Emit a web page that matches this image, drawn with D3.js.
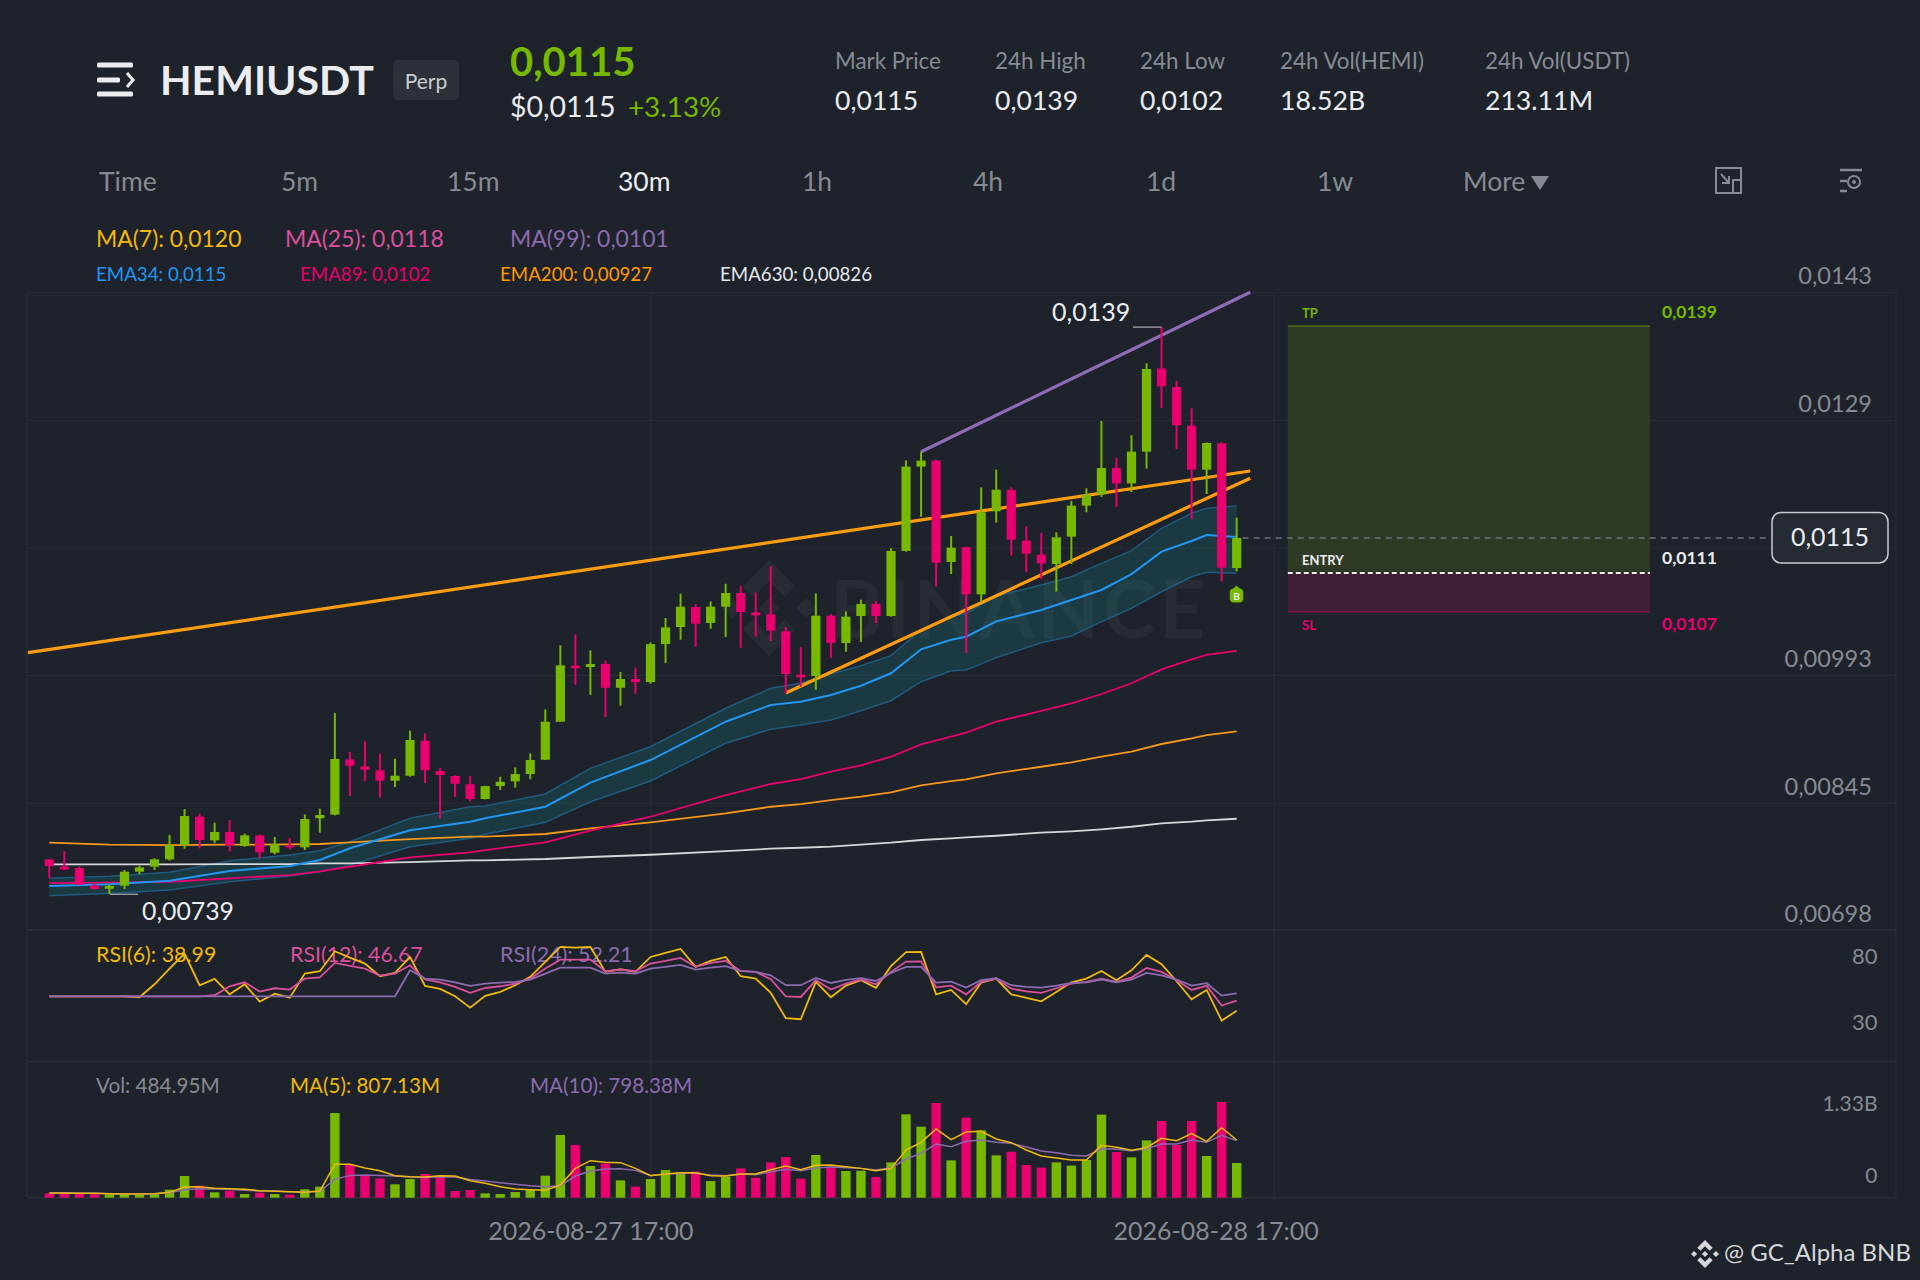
<!DOCTYPE html>
<html>
<head>
<meta charset="utf-8">
<script src="https://cdn.jsdelivr.net/npm/d3@7"></script>
<style>
  html, body { margin: 0; background: #1e222a; }
  svg { display: block; }
  text { font-family: Lato, sans-serif; }
  .axis .domain { display: none; }
</style>
</head>
<body>
<script>
// prices are kept in units of 0.00001, so 1430 means 0,0143
const opens = [779.1,770.7,769.1,749.2,745.4,748.9,764.9,770.7,779.1,795.5,828.1,800.9,810.5,794.4,806.6,786.7,795.2,792.9,826.2,830.4,
  893.9,885.8,881.3,869.4,875.1,915.3,880.5,874.8,865.2,848.3,863.2,868.6,877.0,893.5,937.1,1001.4,999.8,1003.3,976.1,986.1,
  982.6,1026.2,1045.8,1068.7,1050.4,1069.1,1084.8,1062.6,1060.3,1040.8,991.1,989.5,1058.8,1027.4,1058.4,1072.2,1058.4,1133.1,1229.9,1236.8,
  1120.4,1137.3,1083.3,1178.6,1203.1,1145.0,1128.9,1118.1,1149.5,1185.1,1198.1,1228.3,1210.7,1247.1,1342.4,1321.3,1276.9,1226.4,1256.7,1113.5];
const highs = [779.1,788.3,770.7,751.5,750.4,766.8,771.8,780.2,807.0,836.9,831.5,821.2,824.2,808.5,807.8,804.7,803.6,830.7,837.2,947.1,
  902.3,914.5,900.4,894.6,926.8,923.7,883.9,875.5,874.8,863.6,873.9,884.7,900.7,951.2,1024.7,1037.3,1019.0,1007.5,994.1,999.1,
  1028.2,1056.1,1084.0,1071.8,1075.2,1095.5,1093.2,1085.2,1115.8,1045.8,1022.8,1084.4,1060.7,1063.7,1077.1,1075.6,1136.1,1237.1,1247.1,1237.5,
  1150.3,1138.0,1206.1,1226.4,1206.1,1161.4,1153.7,1154.5,1190.5,1205.0,1282.3,1239.8,1265.8,1348.5,1390.0,1328.2,1296.8,1257.8,1257.8,1171.3];
const lows = [757.3,766.5,749.6,744.6,739.0,745.0,762.2,766.8,777.6,791.3,791.7,797.8,788.3,793.6,780.2,784.8,790.6,789.8,809.7,829.6,
  851.8,869.0,849.9,862.1,874.0,866.7,826.2,850.6,846.0,847.9,858.6,861.3,870.9,893.1,937.1,979.2,967.7,942.4,955.5,969.2,
  980.7,1004.4,1031.2,1023.2,1043.8,1034.3,1022.0,1034.7,1029.7,969.6,977.3,973.8,1010.6,1017.4,1028.5,1050.4,1057.7,1132.3,1172.5,1092.1,
  1106.6,1016.3,1074.9,1165.6,1127.7,1108.6,1100.9,1086.4,1118.1,1177.4,1195.1,1183.9,1200.8,1227.6,1297.2,1250.1,1169.8,1198.5,1098.2,1109.7];
const closes = [771.4,767.6,750.0,745.0,748.5,764.9,769.9,779.1,795.5,828.8,801.3,810.5,794.8,806.6,787.1,796.3,792.9,825.4,830.0,894.3,
  886.6,882.0,869.4,875.1,916.1,881.3,875.9,865.9,848.3,863.2,868.2,877.0,893.1,937.1,1001.8,998.3,1003.3,976.1,986.1,982.6,
  1026.2,1045.4,1069.1,1049.6,1069.1,1084.8,1063.0,1059.2,1041.6,991.8,988.0,1058.8,1027.4,1057.6,1072.2,1058.4,1133.1,1229.9,1236.8,1119.7,
  1136.9,1083.3,1177.4,1203.5,1146.1,1130.0,1118.9,1148.8,1185.1,1197.7,1228.3,1210.7,1247.1,1342.0,1322.1,1277.3,1226.4,1257.0,1113.9,1148.0];

const volumes = [61,56,56,51,47,47,47,47,112,303,168,75,98,51,70,51,42,117,154,1184,
  457,312,270,187,261,331,308,93,107,61,51,79,107,308,877,737,443,480,242,154,
  261,387,354,364,233,294,410,280,494,569,266,597,434,373,378,289,494,1166,993,1324,
  522,1119,942,592,643,457,420,494,448,527,1161,639,564,802,1072,737,1072,583,1338,484.95];
const volMa5 = [65,65,61,61,56,51,51,56,75,149,154,131,126,117,98,89,84,75,93,466,
  466,415,378,308,294,289,308,303,238,201,154,121,112,103,177,410,518,494,490,410,
  308,331,350,350,308,303,331,331,392,443,392,452,457,434,410,378,410,667,774,961,
  811,919,928,821,769,667,583,555,527,527,732,704,662,699,830,797,895,788,979,807.13];
const volMa10 = [65,65,61,61,56,51,51,56,70,112,126,121,117,103,93,93,84,79,89,256,
  312,317,312,303,289,284,294,289,256,233,210,187,168,154,168,303,373,401,406,382,
  312,331,340,345,317,308,331,322,364,396,378,415,429,420,410,387,415,541,620,751,
  713,788,807,774,760,709,653,630,592,583,685,676,657,685,751,751,807,774,872,798.38];

const rsi6 = [50,50,50,50,50,50,49.3,59.1,71.0,82.4,58.4,63.2,51.5,59.1,46.0,52.0,49.0,67.2,69.0,84.1,
  79.3,74.8,65.2,67.7,79.8,57.9,55.6,50.0,41.4,50.3,53.3,58.4,64.7,76.0,87.4,86.9,87.4,68.5,70.5,68.5,
  79.8,82.9,85.9,72.3,76.8,79.8,65.2,63.4,52.6,33.4,32.6,60.9,49.3,58.1,62.2,56.4,72.8,83.4,83.6,51.5,
  54.8,44.0,60.4,63.4,51.5,48.8,46.2,53.3,60.6,63.4,69.2,62.2,69.7,81.3,74.3,61.4,47.8,54.8,31.6,38.99];
const rsi12 = [50,50,50,50,50,50,50,50,50,50,50,50.8,57.6,60.6,53.6,56.1,55.1,63.4,64.4,75.3,
  73.0,71.0,65.7,67.2,73.5,62.7,60.6,57.1,52.6,56.3,57.6,59.6,63.4,71.0,77.8,77.8,77.8,69.0,70.2,69.0,
  74.8,76.8,79.1,72.3,75.3,76.8,69.2,68.5,62.9,50.0,49.5,62.2,55.1,59.6,62.7,59.1,68.5,76.3,76.5,56.8,
  58.1,51.5,60.9,63.4,55.8,53.8,52.6,56.1,59.6,60.9,63.4,60.9,64.2,71.5,68.5,62.2,54.8,57.9,43.0,46.67];
const rsi24 = [50,50,50,50,50,50,50,50,50,50,50,50,50,50,50,50,50,50,50,50,
  50,50,50,50,69.7,63.4,62.7,60.6,57.9,59.6,60.4,60.9,62.7,67.2,71.7,71.7,71.7,67.2,68.0,67.2,
  71.0,72.3,73.8,70.2,71.7,72.8,69.0,68.5,65.9,58.4,58.4,63.9,60.1,62.4,63.7,61.6,67.7,72.3,72.3,60.4,
  61.1,56.6,62.2,63.7,58.4,57.1,56.6,58.1,60.1,60.6,62.7,60.6,62.7,67.7,65.9,62.7,58.1,59.9,50.5,52.21];

// the moving averages are read at these candles only
const emaCandles = [0,4,8,12,16,18,20,24,28,29,33,36,40,45,48,50,52,54,56,58,60,61,63,66,68,70,72,74,76,77,79];
const ema34 = [748.5,750.4,754.6,765.7,771.4,778.3,791.8,812.4,822.3,826.2,839.5,867.1,893.1,937.1,956.3,960.0,967.7,978.4,992.7,1020.2,1031.2,1034.7,1052.3,1065.3,1076.8,1088.3,1106.6,1132.3,1144.5,1151.4,1149.1];
const emaUpper = [757.3,759.6,764.2,777.5,784.1,789.0,799.3,826.2,839.5,840.3,854.1,883.6,908.4,952.5,975.4,981.2,991.8,1001.4,1012.9,1042.4,1057.6,1061.5,1081.4,1094.0,1103.5,1118.9,1133.4,1159.1,1176.3,1182.1,1184.7];
const emaLower = [737.3,740.1,743.9,753.4,760.0,764.9,772.6,793.6,803.2,807.8,821.6,845.2,869.0,912.3,928.4,933.3,939.0,949.7,961.2,983.0,995.6,996.4,1010.6,1027.8,1035.5,1051.9,1067.3,1086.3,1103.5,1108.6,1107.5];
const ema89 = [751.9,752.3,753.4,757.3,761.1,765.3,770.6,781.4,787.2,789.8,798.6,812.0,828.0,852.9,865.6,871.3,879.7,887.0,896.9,911.1,919.9,924.5,937.1,949.4,958.2,968.9,981.2,997.2,1008.7,1013.7,1018.3];
const ema200 = [798.2,795.9,795.5,795.9,796.3,796.7,798.6,802.4,805.1,805.1,808.2,814.7,821.6,831.9,839.5,842.6,847.2,851.0,856.0,864.1,869.0,871.0,877.9,885.4,890.5,896.9,902.7,911.5,918.0,921.8,926.1];
const ema630 = [773.4,773.4,773.4,773.7,773.7,774.5,774.5,776.0,778.0,778.0,779.5,781.8,784.4,788.6,791.3,792.4,793.6,795.9,798.2,801.3,803.2,804.4,806.2,809.7,811.3,813.6,816.5,820.5,822.3,823.9,825.7];

// hand drawn trend lines as candle position and price
const trendLong = [[-1.42,1016.3],[79.9,1224.9]];
const trendRising = [[49.0,970.0],[79.9,1216.5]];
const trendTop = [[58.0,1247.0],[79.9,1430.0]];

const positionCandles = [82.4,106.5];
const tpPrice = 1391.4, entryPrice = 1107.8, slPrice = 1063.4, lastPrice = 1148;

const priceTicks = [1430,1283.6,1137,990.7,844.3,698];
const priceTickLabels = ['0,0143','0,0129','','0,00993','0,00845','0,00698'];
const rsiTicks = [80,30];
const volTicks = [1330,0];
const volTickLabels = ['1.33B','0'];
const gridCandles = [40,81.45];
const timeCandles = [36,77.6];
const timeLabels = ['2026-08-27 17:00','2026-08-28 17:00'];

const statNames = ['Mark Price','24h High','24h Low','24h Vol(HEMI)','24h Vol(USDT)'];
const statValues = ['0,0115','0,0139','0,0102','18.52B','213.11M'];
const statX = [835,995,1140,1280,1485];
const periods = ['Time','5m','15m','30m','1h','4h','1d','1w','More'];
const periodX = [99,281,447,618,802,973,1146,1317,1463];
const maLegend = ['MA(7): 0,0120','MA(25): 0,0118','MA(99): 0,0101'];
const maLegendX = [96,285,510];
const maColors = ['#f0b90b','#d9509c','#8c6bb1'];
const emaLegend = ['EMA34: 0,0115','EMA89: 0,0102','EMA200: 0,00927','EMA630: 0,00826'];
const emaLegendX = [96,300,500,720];
const emaColors = ['#2196f3','#e6006e','#ff9800','#e6e8ea'];

const green = '#76b900';
const red = '#e8006f';
const gridColor = '#2a2e37';
const axisColor = '#868b93';

const svg = d3.select('body').append('svg')
  .attr('width', 1920)
  .attr('height', 1280);

const x = d3.scaleLinear().domain([0, 79]).range([49.3, 1236.7]);
const y = d3.scaleLinear().domain([1430, 698]).range([292.3, 930]);
const yRsi = d3.scaleLinear().domain([80, 30]).range([956.7, 1022.7]);
const yVol = d3.scaleLinear().domain([0, 1338]).range([1197.7, 1102]);

function label(parent, px, py, str, size, fill, weight, anchor) {
  return parent.append('text')
    .attr('x', px)
    .attr('y', py)
    .attr('dy', '0.35em')
    .attr('font-size', size)
    .attr('font-weight', weight || 400)
    .attr('text-anchor', anchor || 'start')
    .attr('fill', fill)
    .text(str);
}

// binance mark in a -1..1 box
const markParts = [
  [[0,-1],[0.55,-0.45],[0.33,-0.23],[0,-0.56],[-0.33,-0.23],[-0.55,-0.45]],
  [[0,1],[0.55,0.45],[0.33,0.23],[0,0.56],[-0.33,0.23],[-0.55,0.45]],
  [[-1,0],[-0.78,-0.22],[-0.56,0],[-0.78,0.22]],
  [[1,0],[0.78,-0.22],[0.56,0],[0.78,0.22]],
  [[0,-0.22],[0.22,0],[0,0.22],[-0.22,0]]
];
function drawMark(cx, cy, r, fill) {
  svg.append('g')
    .attr('transform', `translate(${cx},${cy}) scale(${r})`)
    .selectAll('polygon')
    .data(markParts)
    .enter()
    .append('polygon')
    .attr('points', (d) => d.join(' '))
    .attr('fill', fill);
}

// header
const head = svg.append('g');
[65, 94].forEach((py) => {
  head.append('rect').attr('x', 97).attr('y', py - 2.5).attr('width', 36).attr('height', 5).attr('rx', 1.5).attr('fill', '#eaecef');
});
head.append('rect').attr('x', 97).attr('y', 77.5).attr('width', 23).attr('height', 5).attr('rx', 1.5).attr('fill', '#eaecef');
head.append('path').attr('d', 'M127,73 L133,80 L127,87').attr('fill', 'none').attr('stroke', '#eaecef').attr('stroke-width', 3);
label(head, 160, 81, 'HEMIUSDT', 41, '#eaecef', 700);
head.append('rect').attr('x', 393).attr('y', 60).attr('width', 66).attr('height', 40).attr('rx', 5).attr('fill', '#2b3039');
label(head, 426, 82, 'Perp', 21, '#c9ccd1', 400, 'middle');
label(head, 510, 62, '0,0115', 40, green, 700);
label(head, 510, 107, '$0,0115', 28.5, '#eaecef');
label(head, 628, 107, '+3.13%', 27.8, green);
statNames.forEach((s, i) => {
  label(head, statX[i], 61, s, 22.4, axisColor);
  label(head, statX[i], 101, statValues[i], 26.6, '#eaecef');
});
periods.forEach((s, i) => {
  label(head, periodX[i], 182, s, 26.5, s === '30m' ? '#eaecef' : axisColor);
});
head.append('path').attr('d', 'M1531,176 L1549,176 L1540,190 Z').attr('fill', axisColor);
head.append('path')
  .attr('d', 'M1741,180 L1741,168 L1716,168 L1716,193 L1741,193 M1733,180 L1741,180 L1741,193 L1733,193 Z M1721,174 L1729,183 M1729,176 L1729,183 L1722,183')
  .attr('fill', 'none').attr('stroke', axisColor).attr('stroke-width', 2);
head.append('path')
  .attr('d', 'M1840,170 L1862,170 M1840,181 L1847,181 M1840,191 L1847,191')
  .attr('fill', 'none').attr('stroke', axisColor).attr('stroke-width', 2.5);
head.append('circle').attr('cx', 1854).attr('cy', 182).attr('r', 6).attr('fill', 'none').attr('stroke', axisColor).attr('stroke-width', 2);
head.append('circle').attr('cx', 1854).attr('cy', 182).attr('r', 2).attr('fill', axisColor);

maLegend.forEach((s, i) => label(head, maLegendX[i], 239, s, 22.9, maColors[i]));
emaLegend.forEach((s, i) => label(head, emaLegendX[i], 274, s, 18.7, emaColors[i]));

// grid and panel frames
const grid = svg.append('g').attr('class', 'axis');
grid.append('g')
  .attr('transform', 'translate(27,0)')
  .call(d3.axisLeft(y).tickValues(priceTicks).tickSize(-1869).tickFormat(''))
  .selectAll('line').attr('stroke', gridColor);
grid.append('g')
  .attr('transform', 'translate(0,292.3)')
  .call(d3.axisTop(x).tickValues(gridCandles).tickSize(-905.4).tickFormat(''))
  .selectAll('line').attr('stroke', gridColor);
[930, 1061.7, 1197.7].forEach((py) => {
  svg.append('line').attr('x1', 27).attr('x2', 1896).attr('y1', py).attr('y2', py).attr('stroke', gridColor).attr('stroke-width', 2);
});
[27, 1896].forEach((px) => {
  svg.append('line').attr('x1', px).attr('x2', px).attr('y1', 292.3).attr('y2', 1197.7).attr('stroke', gridColor);
});

// watermark
drawMark(769, 608, 48, '#272b34');
label(svg, 830, 610, 'BINANCE', 80, '#272b34', 700).attr('letter-spacing', 3.5);

// long position box
svg.append('rect')
  .attr('x', x(positionCandles[0]))
  .attr('y', y(tpPrice))
  .attr('width', x(positionCandles[1]) - x(positionCandles[0]))
  .attr('height', y(entryPrice) - y(tpPrice))
  .attr('fill', '#2f3a24');
svg.append('rect')
  .attr('x', x(positionCandles[0]))
  .attr('y', y(entryPrice))
  .attr('width', x(positionCandles[1]) - x(positionCandles[0]))
  .attr('height', y(slPrice) - y(entryPrice))
  .attr('fill', '#3e1d35');
svg.append('line').attr('x1', x(positionCandles[0])).attr('x2', x(positionCandles[1])).attr('y1', y(tpPrice)).attr('y2', y(tpPrice)).attr('stroke', '#4d7010').attr('stroke-width', 1.5);
svg.append('line').attr('x1', x(positionCandles[0])).attr('x2', x(positionCandles[1])).attr('y1', y(slPrice)).attr('y2', y(slPrice)).attr('stroke', '#85114f').attr('stroke-width', 1.5);
svg.append('line').attr('x1', x(positionCandles[0])).attr('x2', x(positionCandles[1])).attr('y1', y(entryPrice)).attr('y2', y(entryPrice)).attr('stroke', '#f0f0f0').attr('stroke-width', 2).attr('stroke-dasharray', '5,3');
label(svg, 1302, 313, 'TP', 13, green, 700);
label(svg, 1302, 560, 'ENTRY', 13, '#eaecef', 700);
label(svg, 1302, 625, 'SL', 13, red, 700);
label(svg, 1662, 312, '0,0139', 17.5, green, 700);
label(svg, 1662, 558, '0,0111', 17.5, '#eaecef', 700);
label(svg, 1662, 624, '0,0107', 17.5, red, 700);

// last price line
svg.append('line').attr('x1', x(79) + 6).attr('x2', 1771).attr('y1', y(lastPrice)).attr('y2', y(lastPrice))
  .attr('stroke', '#6c717b').attr('stroke-width', 1.5).attr('stroke-dasharray', '6,5');

// ema band and lines
const bandArea = d3.area()
  .x((d, i) => x(emaCandles[i]))
  .y0((d, i) => y(emaLower[i]))
  .y1((d) => y(d));
svg.append('path').attr('d', bandArea(emaUpper)).attr('fill', 'rgb(23,114,115)').attr('fill-opacity', 0.3);

const emaLine = d3.line().x((d, i) => x(emaCandles[i])).y((d) => y(d));
[[emaUpper, '#1f5a80', 1.5], [emaLower, '#1f5a80', 1.5], [ema630, '#d5d7da', 1.8], [ema200, '#f7981d', 1.8], [ema89, red, 1.8], [ema34, '#2196f3', 2]].forEach((s) => {
  svg.append('path')
    .attr('d', emaLine(s[0]))
    .attr('fill', 'none')
    .attr('stroke', s[1])
    .attr('stroke-width', s[2]);
});

// trend lines
const trendLine = d3.line().x((d) => x(d[0])).y((d) => y(d[1]));
[[trendLong, '#ff9c0f'], [trendRising, '#ff9c0f'], [trendTop, '#8f6bb8']].forEach((s) => {
  svg.append('path')
    .attr('d', trendLine(s[0]))
    .attr('fill', 'none')
    .attr('stroke', s[1])
    .attr('stroke-width', 3.2);
});

// candles
const candleColor = (i) => closes[i] >= opens[i] ? green : red;
svg.append('g').selectAll('line')
  .data(closes)
  .enter()
  .append('line')
  .attr('x1', (d, i) => x(i))
  .attr('x2', (d, i) => x(i))
  .attr('y1', (d, i) => y(highs[i]))
  .attr('y2', (d, i) => y(lows[i]))
  .attr('stroke', (d, i) => candleColor(i))
  .attr('stroke-width', 2);
svg.append('g').selectAll('rect')
  .data(closes)
  .enter()
  .append('rect')
  .attr('x', (d, i) => x(i) - 4.6)
  .attr('width', 9.2)
  .attr('y', (d, i) => y(Math.max(opens[i], closes[i])))
  .attr('height', (d, i) => Math.max(1.5, Math.abs(y(opens[i]) - y(closes[i]))))
  .attr('fill', (d, i) => candleColor(i));

// high and low notes
label(svg, 1052, 312, '0,0139', 25, '#eaecef');
label(svg, 142, 911, '0,00739', 24.8, '#eaecef');
svg.append('line').attr('x1', 1133).attr('x2', x(74)).attr('y1', y(highs[74])).attr('y2', y(highs[74])).attr('stroke', '#a0a4aa').attr('stroke-width', 1.3);
svg.append('line').attr('x1', 110).attr('x2', 138).attr('y1', y(lows[4])).attr('y2', y(lows[4])).attr('stroke', '#a0a4aa').attr('stroke-width', 1.3);

// buy marker
svg.append('path').attr('d', 'M1236.5,585.5 L1240,589 L1233,589 Z').attr('fill', green);
svg.append('rect').attr('x', 1229.8).attr('y', 588.5).attr('width', 13.4).attr('height', 14).attr('rx', 4).attr('fill', green);
label(svg, 1236.5, 596, 'B', 10, '#eaecef', 700, 'middle');

// price axis
svg.append('g')
  .attr('class', 'axis')
  .attr('transform', 'translate(1872,0)')
  .call(d3.axisRight(y).tickValues(priceTicks).tickSize(0).tickPadding(0).tickFormat((d, i) => priceTickLabels[i]))
  .selectAll('text')
  .attr('text-anchor', 'end')
  .attr('dy', '-0.36em')
  .attr('font-size', 23.6)
  .attr('font-family', 'Lato, sans-serif')
  .attr('fill', axisColor);

// current price tag
svg.append('rect').attr('x', 1772).attr('y', 512.5).attr('width', 116).attr('height', 50.5).attr('rx', 9)
  .attr('fill', '#262b33').attr('stroke', '#c9ccd1').attr('stroke-width', 1.5);
label(svg, 1830, 537.5, '0,0115', 25, '#eaecef', 400, 'middle');

// rsi panel
label(svg, 96, 955, 'RSI(6): 38.99', 21.4, maColors[0]);
label(svg, 290, 955, 'RSI(12): 46.67', 21.4, maColors[1]);
label(svg, 500, 955, 'RSI(24): 52.21', 21.4, maColors[2]);
const rsiLine = d3.line().x((d, i) => x(i)).y((d) => yRsi(d));
[[rsi6, '#f0b90b'], [rsi12, '#d9509c'], [rsi24, '#8c6bb1']].forEach((s) => {
  svg.append('path')
    .attr('d', rsiLine(s[0]))
    .attr('fill', 'none')
    .attr('stroke', s[1])
    .attr('stroke-width', 1.8);
});
svg.append('g')
  .attr('class', 'axis')
  .attr('transform', 'translate(1877.5,0)')
  .call(d3.axisRight(yRsi).tickValues(rsiTicks).tickSize(0).tickPadding(0))
  .selectAll('text')
  .attr('text-anchor', 'end')
  .attr('font-size', 22)
  .attr('font-family', 'Lato, sans-serif')
  .attr('fill', axisColor);

// volume panel
label(svg, 96, 1085.5, 'Vol: 484.95M', 20.7, axisColor);
label(svg, 290, 1085.5, 'MA(5): 807.13M', 20.6, maColors[0]);
label(svg, 530, 1085.5, 'MA(10): 798.38M', 20.6, maColors[2]);
svg.append('g').selectAll('rect')
  .data(volumes)
  .enter()
  .append('rect')
  .attr('x', (d, i) => x(i) - 4.7)
  .attr('width', 9.4)
  .attr('y', (d) => yVol(d))
  .attr('height', (d) => yVol(0) - yVol(d))
  .attr('fill', (d, i) => candleColor(i));
const volLine = d3.line().x((d, i) => x(i)).y((d) => yVol(d));
[[volMa10, '#8c6bb1'], [volMa5, '#f0b90b']].forEach((s) => {
  svg.append('path')
    .attr('d', volLine(s[0]))
    .attr('fill', 'none')
    .attr('stroke', s[1])
    .attr('stroke-width', 1.5);
});
svg.append('g')
  .attr('class', 'axis')
  .attr('transform', 'translate(1877.5,0)')
  .call(d3.axisRight(yVol).tickValues(volTicks).tickSize(0).tickPadding(0).tickFormat((d, i) => volTickLabels[i]))
  .selectAll('text')
  .attr('text-anchor', 'end')
  .attr('dy', (d) => d === 0 ? '-0.72em' : '0.4em')
  .attr('font-size', 21)
  .attr('font-family', 'Lato, sans-serif')
  .attr('fill', axisColor);

// time axis
svg.append('g')
  .attr('class', 'axis')
  .attr('transform', 'translate(0,1222)')
  .call(d3.axisBottom(x).tickValues(timeCandles).tickSize(0).tickPadding(0).tickFormat((d, i) => timeLabels[i]))
  .selectAll('text')
  .attr('font-size', 25)
  .attr('font-family', 'Lato, sans-serif')
  .attr('fill', axisColor);

// signature
drawMark(1705, 1254, 14, '#d5d7da');
label(svg, 1724, 1253, '@ GC_Alpha BNB', 24, '#d5d7da').attr('font-family', 'Open Sans, sans-serif');
</script>
</body>
</html>
